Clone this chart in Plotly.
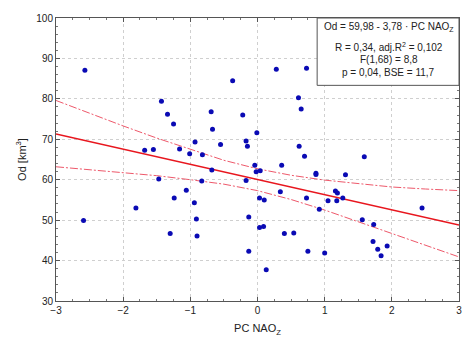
import plotly.graph_objects as go

# Scatter data: PC NAO_Z vs Od [km^3]
pc_nao = [-2.57, -2.59, -1.81, -1.68, -1.55, -1.47, -1.43, -1.34, -1.25, -1.24,
          -1.30, -1.16, -1.06, -1.01, -0.94, -0.91, -0.90, -0.93, -0.83, -0.82,
          -0.69, -0.67, -0.68, -0.55, -0.37, -0.22, -0.17, -0.15, -0.17, -0.13,
          -0.13, -0.04, -0.02, -0.01, 0.04, 0.03, 0.10, 0.03, 0.09, 0.13,
          0.28, 0.36, 0.34, 0.40, 0.54, 0.61, 0.65, 0.62, 0.70, 0.73,
          0.73, 0.75, 0.87, 0.87, 0.92, 1.00, 1.05, 1.16, 1.19, 1.18,
          1.27, 1.31, 1.56, 1.59, 1.73, 1.72, 1.79, 1.84, 1.93, 2.45]
od = [87.1, 49.9, 53.0, 67.3, 67.5, 60.2, 79.4, 76.2, 73.8, 55.5,
      46.7, 67.6, 57.4, 66.4, 54.3, 50.3, 46.1, 69.3, 59.7, 66.2,
      76.8, 72.5, 62.4, 68.7, 84.5, 76.0, 69.6, 68.3, 59.8, 50.8,
      42.3, 63.6, 62.0, 71.6, 62.2, 55.5, 55.0, 48.2, 48.4, 37.7,
      87.3, 63.6, 57.0, 46.7, 46.8, 80.3, 77.5, 68.3, 65.8, 87.6,
      55.5, 42.3, 61.6, 61.3, 52.7, 41.9, 54.8, 57.2, 56.7, 54.8,
      55.5, 61.2, 50.1, 65.7, 48.9, 44.7, 42.8, 41.2, 43.6, 53.0]

# Regression line endpoints and confidence band
line_x = [-3, 3]
line_y = [71.3, 48.8]
band_x = [-3, -2.5, -2, -1.5, -1, -0.5, 0, 0.5, 1, 1.5, 2, 2.5, 3]
band_upper = [79.6, 76.4, 73.3, 70.3, 67.5, 64.8, 62.7, 61.1, 59.9, 59.0, 58.2, 57.7, 57.3]
band_lower = [63.2, 62.5, 61.8, 61.0, 60.0, 58.9, 57.3, 55.1, 52.5, 49.6, 46.7, 43.8, 40.9]

stats_lines = [
    "Od = 59,98 - 3,78 · PC NAO<sub>Z</sub>",
    "R = 0,34, adj.R<sup>2</sup> = 0,102",
    "F(1,68) = 8,8",
    "p = 0,04, BSE = 11,7",
]

FONT = "Liberation Sans, Arial, sans-serif"
band_color = "rgba(235,70,90,0.9)"

fig = go.Figure()
fig.add_trace(go.Scatter(x=band_x, y=band_upper, mode="lines",
                         line=dict(color=band_color, width=1, dash="8px,2px,2px,2px"),
                         hoverinfo="skip"))
fig.add_trace(go.Scatter(x=band_x, y=band_lower, mode="lines",
                         line=dict(color=band_color, width=1, dash="8px,2px,2px,2px"),
                         hoverinfo="skip"))
fig.add_trace(go.Scatter(x=line_x, y=line_y, mode="lines",
                         line=dict(color="#e8161e", width=1.6)))
fig.add_trace(go.Scatter(x=pc_nao, y=od, mode="markers",
                         marker=dict(color="#0a0ab4", size=5)))

axis_common = dict(
    showline=True, linecolor="#555555", linewidth=1, mirror="ticks",
    ticks="inside", ticklen=4, tickcolor="#555555",
    showgrid=True, gridcolor="#cfcfcf", griddash="dot", gridwidth=1,
    zeroline=False,
    tickfont=dict(family=FONT, size=10, color="#222222"),
)

fig.update_xaxes(range=[-3, 3], dtick=1, tick0=-3,
                 minor=dict(ticks="inside", ticklen=2, dtick=0.25, tickcolor="#777777", showgrid=False),
                 title=dict(text="PC NAO<sub>Z</sub>", font=dict(family=FONT, size=11, color="#222222"), standoff=9),
                 **axis_common)
fig.update_yaxes(range=[30, 100], dtick=10,
                 minor=dict(ticks="inside", ticklen=2, dtick=2, tickcolor="#777777", showgrid=False),
                 title=dict(text="Od [km<sup>3</sup>]", font=dict(family=FONT, size=11, color="#222222"), standoff=7),
                 **axis_common)

fig.add_shape(type="rect", xref="paper", yref="paper",
              x0=0.648, x1=1.0, y0=0.762, y1=1.0,
              line=dict(color="#555555", width=1), fillcolor="white", layer="above")

ys = [0.968, 0.898, 0.853, 0.808]
for t, yy in zip(stats_lines, ys):
    fig.add_annotation(text=t, xref="paper", yref="paper", x=0.826, y=yy,
                       showarrow=False, xanchor="center", yanchor="middle",
                       font=dict(family=FONT, size=10, color="#222222"))

fig.update_layout(
    width=474, height=345,
    margin=dict(l=56, r=15, t=14, b=42),
    paper_bgcolor="white", plot_bgcolor="white",
    showlegend=False,
)

fig.write_html("out.html")
